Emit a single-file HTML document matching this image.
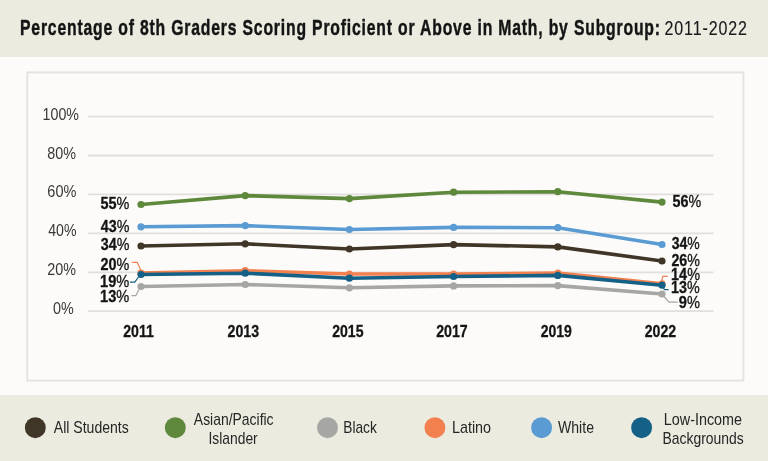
<!DOCTYPE html>
<html><head><meta charset="utf-8"><style>
html,body{margin:0;padding:0;width:768px;height:461px;overflow:hidden;background:#fcfbf9;}
svg{display:block;will-change:transform;font-family:"Liberation Sans",sans-serif;}
</style></head><body>
<svg width="768" height="461" viewBox="0 0 768 461">
<rect x="0" y="0" width="768" height="461" fill="#fcfbf9"/>
<rect x="0" y="0" width="768" height="57" fill="#ebebe0"/>
<rect x="0" y="395" width="768" height="66" fill="#ebebe0"/>
<rect x="27.3" y="72.4" width="716.1" height="308.2" fill="none" stroke="#e3e3e1" stroke-width="1.9"/>
<line x1="88" y1="311.20" x2="713.5" y2="311.20" stroke="#e0dfdd" stroke-width="1.8"/>
<line x1="88" y1="272.28" x2="713.5" y2="272.28" stroke="#e0dfdd" stroke-width="1.8"/>
<line x1="88" y1="233.36" x2="713.5" y2="233.36" stroke="#e0dfdd" stroke-width="1.8"/>
<line x1="88" y1="194.44" x2="713.5" y2="194.44" stroke="#e0dfdd" stroke-width="1.8"/>
<line x1="88" y1="155.52" x2="713.5" y2="155.52" stroke="#e0dfdd" stroke-width="1.8"/>
<line x1="88" y1="116.60" x2="713.5" y2="116.60" stroke="#e0dfdd" stroke-width="1.8"/>
<polyline points="131.8,262.3 137.2,262.3 140.8,270.5" fill="none" stroke="#f3804f" stroke-width="1.2"/>
<polyline points="129.9,282.2 134.8,282.2 138.5,277.0" fill="none" stroke="#156087" stroke-width="1.2"/>
<polyline points="131.4,295.6 135.8,295.6 139.0,289.5" fill="none" stroke="#a6a6a4" stroke-width="1.2"/>
<polyline points="667.7,276.3 662.8,276.3 661.5,281.5" fill="none" stroke="#f3804f" stroke-width="1.2"/>
<polyline points="668.6,289.6 664.5,289.6 663.0,287.5" fill="none" stroke="#156087" stroke-width="1.2"/>
<polyline points="677.7,302.2 669.0,302.2 664.0,296.5" fill="none" stroke="#a6a6a4" stroke-width="1.2"/>
<polyline points="141.0,246.0 245.2,243.8 349.4,249.0 453.6,244.6 557.8,246.9 662.0,261.0" fill="none" stroke="#3f3627" stroke-width="3.6" stroke-linejoin="round"/>
<circle cx="141.0" cy="246.0" r="3.6" fill="#3f3627"/>
<circle cx="245.2" cy="243.8" r="3.6" fill="#3f3627"/>
<circle cx="349.4" cy="249.0" r="3.6" fill="#3f3627"/>
<circle cx="453.6" cy="244.6" r="3.6" fill="#3f3627"/>
<circle cx="557.8" cy="246.9" r="3.6" fill="#3f3627"/>
<circle cx="662.0" cy="261.0" r="3.6" fill="#3f3627"/>
<polyline points="141.0,204.5 245.2,195.6 349.4,198.6 453.6,192.2 557.8,191.7 662.0,202.1" fill="none" stroke="#5e883b" stroke-width="3.6" stroke-linejoin="round"/>
<circle cx="141.0" cy="204.5" r="3.6" fill="#5e883b"/>
<circle cx="245.2" cy="195.6" r="3.6" fill="#5e883b"/>
<circle cx="349.4" cy="198.6" r="3.6" fill="#5e883b"/>
<circle cx="453.6" cy="192.2" r="3.6" fill="#5e883b"/>
<circle cx="557.8" cy="191.7" r="3.6" fill="#5e883b"/>
<circle cx="662.0" cy="202.1" r="3.6" fill="#5e883b"/>
<polyline points="141.0,286.5 245.2,284.5 349.4,287.8 453.6,285.9 557.8,285.6 662.0,294.0" fill="none" stroke="#a6a6a4" stroke-width="3.6" stroke-linejoin="round"/>
<circle cx="141.0" cy="286.5" r="3.6" fill="#a6a6a4"/>
<circle cx="245.2" cy="284.5" r="3.6" fill="#a6a6a4"/>
<circle cx="349.4" cy="287.8" r="3.6" fill="#a6a6a4"/>
<circle cx="453.6" cy="285.9" r="3.6" fill="#a6a6a4"/>
<circle cx="557.8" cy="285.6" r="3.6" fill="#a6a6a4"/>
<circle cx="662.0" cy="294.0" r="3.6" fill="#a6a6a4"/>
<polyline points="141.0,273.0 245.2,270.7 349.4,274.0 453.6,274.0 557.8,273.1 662.0,283.8" fill="none" stroke="#f3804f" stroke-width="3.6" stroke-linejoin="round"/>
<circle cx="141.0" cy="273.0" r="3.6" fill="#f3804f"/>
<circle cx="245.2" cy="270.7" r="3.6" fill="#f3804f"/>
<circle cx="349.4" cy="274.0" r="3.6" fill="#f3804f"/>
<circle cx="453.6" cy="274.0" r="3.6" fill="#f3804f"/>
<circle cx="557.8" cy="273.1" r="3.6" fill="#f3804f"/>
<circle cx="662.0" cy="283.8" r="3.6" fill="#f3804f"/>
<polyline points="141.0,226.8 245.2,225.6 349.4,229.5 453.6,227.4 557.8,227.7 662.0,244.5" fill="none" stroke="#5b9bd3" stroke-width="3.6" stroke-linejoin="round"/>
<circle cx="141.0" cy="226.8" r="3.6" fill="#5b9bd3"/>
<circle cx="245.2" cy="225.6" r="3.6" fill="#5b9bd3"/>
<circle cx="349.4" cy="229.5" r="3.6" fill="#5b9bd3"/>
<circle cx="453.6" cy="227.4" r="3.6" fill="#5b9bd3"/>
<circle cx="557.8" cy="227.7" r="3.6" fill="#5b9bd3"/>
<circle cx="662.0" cy="244.5" r="3.6" fill="#5b9bd3"/>
<polyline points="141.0,274.5 245.2,273.2 349.4,278.2 453.6,276.5 557.8,275.4 662.0,285.2" fill="none" stroke="#156087" stroke-width="3.6" stroke-linejoin="round"/>
<circle cx="141.0" cy="274.5" r="3.6" fill="#156087"/>
<circle cx="245.2" cy="273.2" r="3.6" fill="#156087"/>
<circle cx="349.4" cy="278.2" r="3.6" fill="#156087"/>
<circle cx="453.6" cy="276.5" r="3.6" fill="#156087"/>
<circle cx="557.8" cy="275.4" r="3.6" fill="#156087"/>
<circle cx="662.0" cy="285.2" r="3.6" fill="#156087"/>
<circle cx="35.3" cy="427.7" r="10.45" fill="#3f3627"/>
<circle cx="175.3" cy="427.7" r="10.45" fill="#5e883b"/>
<circle cx="327.5" cy="427.7" r="10.45" fill="#a6a6a4"/>
<circle cx="434.9" cy="427.7" r="10.45" fill="#f3804f"/>
<circle cx="541.6" cy="427.7" r="10.45" fill="#5b9bd3"/>
<circle cx="641.6" cy="427.7" r="10.45" fill="#156087"/>
<text transform="translate(20.00,35.4) scale(0.7,1)" x="0" y="0" font-size="22.5" font-weight="bold" fill="#141414" stroke="#141414" stroke-width="0.45" textLength="914.29" lengthAdjust="spacing">Percentage of 8th Graders Scoring Proficient or Above in Math, by Subgroup:</text>
<text transform="translate(664.50,35.2) scale(0.8,1)" x="0" y="0" font-size="20.0" font-weight="normal" fill="#1a1a1a" stroke="#1a1a1a" stroke-width="0.15" textLength="103.12" lengthAdjust="spacing">2011-2022</text>
<text x="42.62" y="119.8" font-size="16.5" font-weight="normal" fill="#383838" textLength="36.37" lengthAdjust="spacingAndGlyphs">100%</text>
<text x="47.25" y="158.9" font-size="16.5" font-weight="normal" fill="#383838" textLength="28.71" lengthAdjust="spacingAndGlyphs">80%</text>
<text x="47.34" y="196.9" font-size="16.5" font-weight="normal" fill="#383838" textLength="29.13" lengthAdjust="spacingAndGlyphs">60%</text>
<text x="48.19" y="235.9" font-size="16.5" font-weight="normal" fill="#383838" textLength="28.27" lengthAdjust="spacingAndGlyphs">40%</text>
<text x="47.25" y="274.8" font-size="16.5" font-weight="normal" fill="#383838" textLength="28.71" lengthAdjust="spacingAndGlyphs">20%</text>
<text x="53.06" y="313.8" font-size="16.5" font-weight="normal" fill="#383838" textLength="20.77" lengthAdjust="spacingAndGlyphs">0%</text>
<text x="123.28" y="337.0" font-size="17" font-weight="bold" fill="#141414" stroke="#141414" stroke-width="0.3" textLength="30.64" lengthAdjust="spacingAndGlyphs">2011</text>
<text x="227.58" y="337.0" font-size="17" font-weight="bold" fill="#141414" stroke="#141414" stroke-width="0.3" textLength="31.60" lengthAdjust="spacingAndGlyphs">2013</text>
<text x="332.19" y="337.0" font-size="17" font-weight="bold" fill="#141414" stroke="#141414" stroke-width="0.3" textLength="31.28" lengthAdjust="spacingAndGlyphs">2015</text>
<text x="436.18" y="337.0" font-size="17" font-weight="bold" fill="#141414" stroke="#141414" stroke-width="0.3" textLength="31.50" lengthAdjust="spacingAndGlyphs">2017</text>
<text x="540.69" y="337.0" font-size="17" font-weight="bold" fill="#141414" stroke="#141414" stroke-width="0.3" textLength="31.19" lengthAdjust="spacingAndGlyphs">2019</text>
<text x="644.69" y="337.0" font-size="17" font-weight="bold" fill="#141414" stroke="#141414" stroke-width="0.3" textLength="31.39" lengthAdjust="spacingAndGlyphs">2022</text>
<text x="100.54" y="209.0" font-size="15.75" font-weight="bold" fill="#141414" stroke="#141414" stroke-width="0.3" textLength="28.86" lengthAdjust="spacingAndGlyphs">55<tspan font-weight="normal">%</tspan></text>
<text x="100.77" y="231.9" font-size="15.75" font-weight="bold" fill="#141414" stroke="#141414" stroke-width="0.3" textLength="28.62" lengthAdjust="spacingAndGlyphs">43<tspan font-weight="normal">%</tspan></text>
<text x="100.77" y="249.7" font-size="15.75" font-weight="bold" fill="#141414" stroke="#141414" stroke-width="0.3" textLength="28.62" lengthAdjust="spacingAndGlyphs">34<tspan font-weight="normal">%</tspan></text>
<text x="100.54" y="270.3" font-size="15.75" font-weight="bold" fill="#141414" stroke="#141414" stroke-width="0.3" textLength="28.86" lengthAdjust="spacingAndGlyphs">20<tspan font-weight="normal">%</tspan></text>
<text x="100.07" y="286.7" font-size="15.75" font-weight="bold" fill="#141414" stroke="#141414" stroke-width="0.3" textLength="29.34" lengthAdjust="spacingAndGlyphs">19<tspan font-weight="normal">%</tspan></text>
<text x="100.07" y="301.5" font-size="15.75" font-weight="bold" fill="#141414" stroke="#141414" stroke-width="0.3" textLength="29.34" lengthAdjust="spacingAndGlyphs">13<tspan font-weight="normal">%</tspan></text>
<text x="672.54" y="206.7" font-size="15.75" font-weight="bold" fill="#141414" stroke="#141414" stroke-width="0.3" textLength="28.75" lengthAdjust="spacingAndGlyphs">56<tspan font-weight="normal">%</tspan></text>
<text x="671.68" y="249.3" font-size="15.75" font-weight="bold" fill="#141414" stroke="#141414" stroke-width="0.3" textLength="28.11" lengthAdjust="spacingAndGlyphs">34<tspan font-weight="normal">%</tspan></text>
<text x="671.45" y="265.7" font-size="15.75" font-weight="bold" fill="#141414" stroke="#141414" stroke-width="0.3" textLength="28.55" lengthAdjust="spacingAndGlyphs">26<tspan font-weight="normal">%</tspan></text>
<text x="671.08" y="279.6" font-size="15.75" font-weight="bold" fill="#141414" stroke="#141414" stroke-width="0.3" textLength="28.92" lengthAdjust="spacingAndGlyphs">14<tspan font-weight="normal">%</tspan></text>
<text x="671.09" y="293.4" font-size="15.75" font-weight="bold" fill="#141414" stroke="#141414" stroke-width="0.3" textLength="28.71" lengthAdjust="spacingAndGlyphs">13<tspan font-weight="normal">%</tspan></text>
<text x="678.84" y="307.8" font-size="15.75" font-weight="bold" fill="#141414" stroke="#141414" stroke-width="0.3" textLength="21.16" lengthAdjust="spacingAndGlyphs">9<tspan font-weight="normal">%</tspan></text>
<text x="53.80" y="433.0" font-size="17" font-weight="normal" fill="#262626" textLength="75.00" lengthAdjust="spacingAndGlyphs">All Students</text>
<text x="193.85" y="425.2" font-size="17" font-weight="normal" fill="#262626" textLength="79.72" lengthAdjust="spacingAndGlyphs">Asian/Pacific</text>
<text x="208.48" y="444.1" font-size="17" font-weight="normal" fill="#262626" textLength="49.21" lengthAdjust="spacingAndGlyphs">Islander</text>
<text x="343.29" y="433.0" font-size="17" font-weight="normal" fill="#262626" textLength="33.57" lengthAdjust="spacingAndGlyphs">Black</text>
<text x="451.94" y="433.0" font-size="17" font-weight="normal" fill="#262626" textLength="39.14" lengthAdjust="spacingAndGlyphs">Latino</text>
<text x="558.00" y="433.0" font-size="17" font-weight="normal" fill="#262626" textLength="36.00" lengthAdjust="spacingAndGlyphs">White</text>
<text x="663.74" y="425.2" font-size="17" font-weight="normal" fill="#262626" textLength="78.37" lengthAdjust="spacingAndGlyphs">Low-Income</text>
<text x="662.48" y="444.0" font-size="17" font-weight="normal" fill="#262626" textLength="81.22" lengthAdjust="spacingAndGlyphs">Backgrounds</text>
</svg>
</body></html>
